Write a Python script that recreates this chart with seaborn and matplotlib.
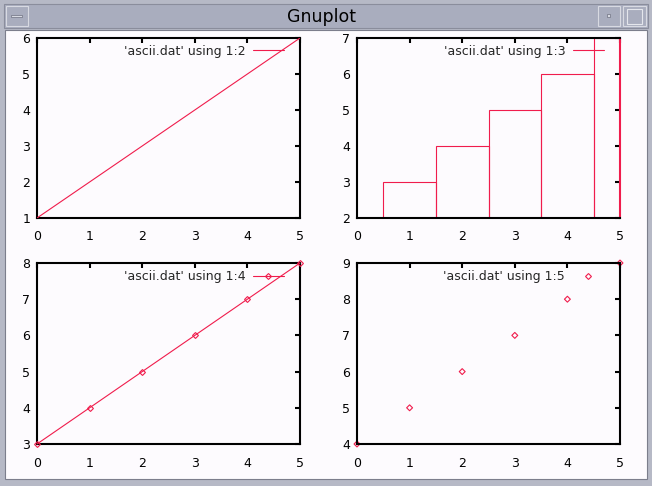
import numpy as np
import pandas as pd
import matplotlib
matplotlib.use("Agg")
import matplotlib.pyplot as plt
from matplotlib.patches import Rectangle
from matplotlib.lines import Line2D
import seaborn as sns

# data from 'ascii.dat'
col1 = [0, 1, 2, 3, 4, 5]
col2 = [1, 2, 3, 4, 5, 6]
col3 = [2, 3, 4, 5, 6, 7]
col4 = [3, 4, 5, 6, 7, 8]
col5 = [4, 5, 6, 7, 8, 9]
labels = ["'ascii.dat' using 1:2", "'ascii.dat' using 1:3",
          "'ascii.dat' using 1:4", "'ascii.dat' using 1:5"]

df = pd.DataFrame({"c1": col1, "c2": col2, "c3": col3, "c4": col4, "c5": col5})

sns.set_style("white")
plt.rcParams["font.family"] = ["DejaVu Sans"]

RED = "#f01c4c"
W, H = 652, 486
fig = plt.figure(figsize=(W / 100, H / 100), dpi=100)
fig.patch.set_facecolor("#b6b9c6")

# window frame (background axes in pixel coords)
bg = fig.add_axes([0, 0, 1, 1], zorder=-5)
bg.set_xlim(0, W)
bg.set_ylim(H, 0)
bg.axis("off")
bg.add_patch(Rectangle((0, 0), W, H, fc="#b6b9c6", ec="none"))
bg.add_patch(Rectangle((5, 30), 642, 449, fc="#fdfbfe", ec="#7c7e8c", lw=0.8))
bg.add_patch(Rectangle((4, 4), 644, 24, fc="#a9adbe", ec="#8a8d9c", lw=0.8))
bg.add_patch(Rectangle((6, 6), 22, 20, fc="#a9adbe", ec="#d8dae2", lw=0.8))
bg.add_patch(Rectangle((11, 15), 11, 2, fc="#d8dae2", ec="#6e7080", lw=0.5))
bg.add_patch(Rectangle((598, 6), 22, 20, fc="#a9adbe", ec="#d8dae2", lw=0.8))
bg.add_patch(Rectangle((607, 14), 3, 3, fc="#d8dae2", ec="#6e7080", lw=0.5))
bg.add_patch(Rectangle((623, 6), 23, 20, fc="#a9adbe", ec="#d8dae2", lw=0.8))
bg.add_patch(Rectangle((627, 9), 15, 15, fc="#a9adbe", ec="#e4e6ec", lw=0.8))
bg.text(322, 17, "Gnuplot", ha="center", va="center", fontsize=12.5, color="black")


def make_ax(left, top, right, bottom):
    return fig.add_axes([left / W, (H - bottom) / H, (right - left) / W, (bottom - top) / H])


ax1 = make_ax(37, 38, 300, 218)
ax2 = make_ax(357, 38, 620, 218)
ax3 = make_ax(37, 263, 300, 444)
ax4 = make_ax(357, 263, 620, 444)

# 1:2 lines
sns.lineplot(data=df, x="c1", y="c2", ax=ax1, color=RED, lw=0.8)
# 1:3 boxes
sns.barplot(data=df, x="c1", y="c3", ax=ax2, native_scale=True, width=1,
            fill=False, edgecolor=RED, linewidth=0.8, errorbar=None)
# 1:4 linespoints
sns.lineplot(data=df, x="c1", y="c4", ax=ax3, color=RED, lw=0.8,
             marker="D", markersize=3, markerfacecolor="none",
             markeredgecolor=RED, markeredgewidth=0.8, clip_on=False)
# 1:5 points
sns.scatterplot(data=df, x="c1", y="c5", ax=ax4, marker="D", s=9,
                facecolor="none", edgecolor=RED, linewidth=0.8, clip_on=False)

handles = [
    Line2D([], [], color=RED, lw=0.8),
    Line2D([], [], color=RED, lw=0.8),
    Line2D([], [], color=RED, lw=0.8, marker="D", markersize=3,
           markerfacecolor="none", markeredgewidth=0.8),
    Line2D([], [], color=RED, lw=0, marker="D", markersize=3,
           markerfacecolor="none", markeredgewidth=0.8),
]

ylims = [(1, 6), (2, 7), (3, 8), (4, 9)]
for ax, h, lab, yl in zip([ax1, ax2, ax3, ax4], handles, labels, ylims):
    ax.set_facecolor("#fdfbfe")
    ax.set_xlim(0, 5)
    ax.set_ylim(*yl)
    ax.set_xticks(range(0, 6))
    ax.set_yticks(range(yl[0], yl[1] + 1))
    ax.set_xlabel("")
    ax.set_ylabel("")
    for s in ax.spines.values():
        s.set_visible(True)
        s.set_color("black")
        s.set_linewidth(1.5)
        s.set_zorder(1)
    ax.tick_params(axis="both", direction="in", length=3.5, width=1.5,
                   top=True, right=True, labelsize=9, colors="black")
    ax.tick_params(axis="x", pad=9)
    ax.tick_params(axis="y", pad=5)
    ax.legend([h], [lab], loc="upper right", frameon=False, fontsize=9,
              markerfirst=False, handlelength=2.5, handletextpad=0.6,
              numpoints=1, borderaxespad=0.2, borderpad=0.35,
              bbox_to_anchor=(0.965, 1.0))

# right edge of the clipped last box
ax2.spines["right"].set_color(RED)

fig.savefig("out.png", dpi=100, facecolor=fig.get_facecolor())
